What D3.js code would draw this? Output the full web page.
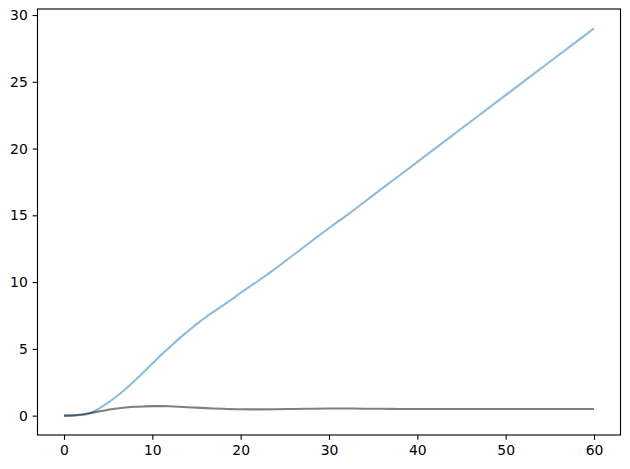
<!DOCTYPE html>
<html lang="en">
<head>
    <meta charset="UTF-8">
    <title>Position and velocity</title>
    <script src="https://d3js.org/d3.v7.min.js"></script>
    <style>
        body { margin: 0; background: #fff; }
        .tick text { font-family: "DejaVu Sans", sans-serif; font-size: 13.9px; fill: #000; }
        .tick line { stroke: #000; stroke-width: 1.11px; }
    </style>
</head>
<body>
    <svg id="chart"></svg>

    <script>
        // blue curve (grows, then nearly linear)
        const posX = [0, 2, 3, 4, 5, 6, 7, 8, 9, 10, 11, 12, 13, 14, 15, 16, 17, 18, 19, 20,
                      22, 24, 26, 28, 30, 32, 34, 36, 38, 40, 45, 50, 55, 60];
        const posY = [0, 0.05, 0.2, 0.55, 0.98, 1.47, 2.02, 2.62, 3.25, 3.9, 4.55, 5.15, 5.75, 6.3, 6.85, 7.35, 7.8, 8.25, 8.7, 9.2,
                      10.1, 11.05, 12.05, 13.05, 14.05, 15.0, 16.0, 17.0, 18.0, 19.0, 21.5, 24.0, 26.5, 29.0];

        // gray curve (settles near 0.5)
        const velX = [0, 1, 2, 3, 4, 5, 6, 7, 8, 9, 10, 11, 12, 13, 14, 15, 16, 17, 18, 19, 20,
                      22, 24, 26, 28, 30, 32, 34, 36, 38, 40, 45, 50, 55, 60];
        const velY = [0, 0.02, 0.08, 0.19, 0.32, 0.44, 0.54, 0.61, 0.66, 0.69, 0.71, 0.71, 0.7, 0.67, 0.63, 0.6, 0.56, 0.53, 0.51, 0.49, 0.48,
                      0.47, 0.48, 0.5, 0.52, 0.53, 0.53, 0.52, 0.51, 0.5, 0.5, 0.5, 0.5, 0.5, 0.5];

        const xTicks = [0, 10, 20, 30, 40, 50, 60];
        const yTicks = [0, 5, 10, 15, 20, 25, 30];

        const width = 630, height = 469;
        const margin = { top: 9, right: 9.5, bottom: 34, left: 37.5 };
        const svg = d3.select("#chart").attr("width", width).attr("height", height);

        const x = d3.scaleLinear().domain([-3, 63]).range([margin.left, width - margin.right]);
        const y = d3.scaleLinear().domain([-1.45, 30.45]).range([height - margin.bottom, margin.top]);

        const line = (xs, ys) => d3.line()
            .x((d, i) => x(xs[i]))
            .y(d => y(d))
            .curve(d3.curveMonotoneX)(ys);

        svg.append("path")
            .attr("d", line(posX, posY))
            .attr("fill", "none")
            .attr("stroke", "#1f77b4")
            .attr("stroke-opacity", 0.5)
            .attr("stroke-width", 2.08);

        svg.append("path")
            .attr("d", line(velX, velY))
            .attr("fill", "none")
            .attr("stroke", "#000")
            .attr("stroke-opacity", 0.5)
            .attr("stroke-width", 2.08);

        const xAxis = svg.append("g")
            .attr("transform", `translate(0,${height - margin.bottom})`)
            .call(d3.axisBottom(x).tickValues(xTicks).tickFormat(d3.format("d"))
                .tickSize(4.86).tickSizeOuter(0).tickPadding(4.86));
        xAxis.select(".domain").remove();

        const yAxis = svg.append("g")
            .attr("transform", `translate(${margin.left},0)`)
            .call(d3.axisLeft(y).tickValues(yTicks).tickFormat(d3.format("d"))
                .tickSize(4.86).tickSizeOuter(0).tickPadding(4.86));
        yAxis.select(".domain").remove();

        svg.append("rect")
            .attr("x", margin.left)
            .attr("y", margin.top)
            .attr("width", width - margin.left - margin.right)
            .attr("height", height - margin.top - margin.bottom)
            .attr("fill", "none")
            .attr("stroke", "#000")
            .attr("stroke-width", 1.11);
    </script>
</body>
</html>
